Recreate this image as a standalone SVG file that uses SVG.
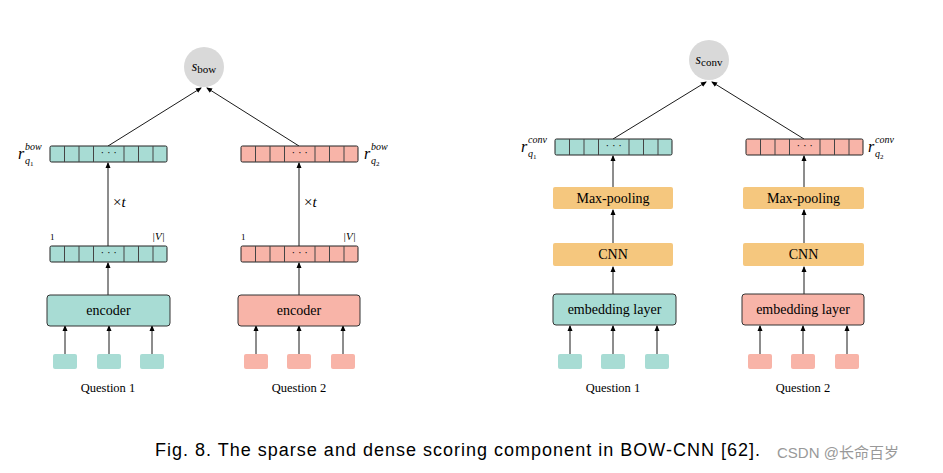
<svg xmlns="http://www.w3.org/2000/svg" xmlns:xlink="http://www.w3.org/1999/xlink" width="943" height="473" viewBox="0 0 943 473">
<style>
.t{font-family:"Liberation Serif",serif;fill:#000}
.lbl{font-size:14px}
.box{stroke:#333;stroke-width:1}
.c{stroke:#000;stroke-width:0.9;fill:none;marker-end:url(#ah)}
.teal{fill:#a8dcd4}.pink{fill:#f8b4a8}.org{fill:#f5c77e}
.r{font-size:16px;font-style:italic}
.sub{font-size:10px;font-style:italic}
.sup{font-size:10px;font-style:italic}
</style>
<defs>
<marker id="ah" markerWidth="6" markerHeight="6" refX="5" refY="3" orient="auto" markerUnits="userSpaceOnUse"><path d="M0,0.5 L6,3 L0,5.5 z" fill="#000"/></marker>
<g id="vec">
<rect x="0" y="0" width="117" height="16" rx="1.5" stroke="#222" stroke-width="1"/>
<path d="M14.5,0V16M29,0V16M43.5,0V16M74,0V16M88.5,0V16M103,0V16" stroke="#444" stroke-width="1"/>
<text x="58.75" y="10" text-anchor="middle" font-family="Liberation Serif,serif" font-size="11" fill="#000">· · ·</text>
</g>
</defs>
<rect width="943" height="473" fill="#fff"/>
<g id="connectors">
<line class="c" x1="108" y1="146" x2="201" y2="88"/>
<line class="c" x1="299" y1="146" x2="207" y2="88"/>
<line class="c" x1="108" y1="246" x2="108" y2="163"/>
<line class="c" x1="299" y1="246" x2="299" y2="163"/>
<line class="c" x1="108" y1="295" x2="108" y2="263"/>
<line class="c" x1="299" y1="295" x2="299" y2="263"/>
<line class="c" x1="65" y1="369" x2="65" y2="326"/>
<line class="c" x1="109" y1="369" x2="109" y2="326"/>
<line class="c" x1="152" y1="369" x2="152" y2="326"/>
<line class="c" x1="256" y1="369" x2="256" y2="326"/>
<line class="c" x1="299" y1="369" x2="299" y2="326"/>
<line class="c" x1="343" y1="369" x2="343" y2="326"/>
<line class="c" x1="613" y1="139" x2="706" y2="82"/>
<line class="c" x1="804" y1="139" x2="712" y2="82"/>
<line class="c" x1="613" y1="187" x2="613" y2="156"/>
<line class="c" x1="804" y1="187" x2="804" y2="156"/>
<line class="c" x1="613" y1="243" x2="613" y2="210"/>
<line class="c" x1="804" y1="243" x2="804" y2="210"/>
<line class="c" x1="613" y1="294" x2="613" y2="267"/>
<line class="c" x1="804" y1="294" x2="804" y2="267"/>
<line class="c" x1="570" y1="369" x2="570" y2="326"/>
<line class="c" x1="613" y1="369" x2="613" y2="326"/>
<line class="c" x1="657" y1="369" x2="657" y2="326"/>
<line class="c" x1="760" y1="369" x2="760" y2="326"/>
<line class="c" x1="803" y1="369" x2="803" y2="326"/>
<line class="c" x1="847" y1="369" x2="847" y2="326"/>
</g>
<g id="sbow"><circle cx="204" cy="67" r="20" fill="#d9d9d9"/><text class="t" x="204" y="71" text-anchor="middle" font-size="14" font-style="italic">s<tspan font-style="normal" font-size="11" dy="2">bow</tspan></text></g>
<g id="rq1bow"><use xlink:href="#vec" x="50" y="146" fill="#a8dcd4"/><text class="t r" x="18" y="159">r</text><text class="t sub" x="25" y="164">q<tspan font-size="7" font-style="normal" dy="2">1</tspan></text><text class="t sup" x="25" y="150">bow</text></g>
<g id="rq2bow"><use xlink:href="#vec" x="241" y="146" fill="#f8b4a8"/><text class="t r" x="364" y="159">r</text><text class="t sub" x="371" y="164">q<tspan font-size="7" font-style="normal" dy="2">2</tspan></text><text class="t sup" x="371" y="150">bow</text></g>
<g id="xt1"><text class="t" x="113" y="207" font-size="15">×<tspan font-style="italic">t</tspan></text></g>
<g id="xt2"><text class="t" x="304" y="207" font-size="15">×<tspan font-style="italic">t</tspan></text></g>
<g id="bowvec1"><use xlink:href="#vec" x="50" y="246" fill="#a8dcd4"/><text class="t" x="50" y="240" font-size="9" fill="#3a2a7a">1</text><text class="t" x="152" y="240" font-size="11" font-style="italic" fill="#e0a030">|V|</text></g>
<g id="bowvec2"><use xlink:href="#vec" x="241" y="246" fill="#f8b4a8"/><text class="t" x="241" y="240" font-size="9">1</text><text class="t" x="343" y="240" font-size="11" font-style="italic" fill="#3a7ad0">|V|</text></g>
<g id="enc1"><rect class="box teal" x="47" y="295" width="123" height="31" rx="3"/><text class="t lbl" x="108.5" y="315" text-anchor="middle">encoder</text></g>
<g id="enc2"><rect class="box pink" x="238" y="295" width="122" height="31" rx="3" stroke="#c03030"/><text class="t lbl" x="299" y="315" text-anchor="middle">encoder</text></g>
<g id="in1"><rect class="teal" x="53" y="354" width="24" height="15" rx="2"/><rect class="teal" x="97" y="354" width="24" height="15" rx="2"/><rect class="teal" x="140" y="354" width="24" height="15" rx="2"/><text class="t" x="108" y="392" font-size="12.5" text-anchor="middle">Question 1</text></g>
<g id="in2"><rect class="pink" x="244" y="354" width="24" height="15" rx="2"/><rect class="pink" x="287" y="354" width="24" height="15" rx="2"/><rect class="pink" x="331" y="354" width="24" height="15" rx="2"/><text class="t" x="299" y="392" font-size="12.5" text-anchor="middle">Question 2</text></g>
<g id="sconv"><circle cx="709" cy="60" r="20" fill="#d9d9d9"/><text class="t" x="709" y="64" text-anchor="middle" font-size="14" font-style="italic">s<tspan font-style="normal" font-size="11" dy="2">conv</tspan></text></g>
<g id="rq1conv"><use xlink:href="#vec" x="555" y="139" fill="#a8dcd4"/><text class="t r" x="521" y="152">r</text><text class="t sub" x="528" y="157">q<tspan font-size="7" font-style="normal" dy="2">1</tspan></text><text class="t sup" x="528" y="143">conv</text></g>
<g id="rq2conv"><use xlink:href="#vec" x="746" y="139" fill="#f8b4a8"/><text class="t r" x="868" y="152">r</text><text class="t sub" x="875" y="157">q<tspan font-size="7" font-style="normal" dy="2">2</tspan></text><text class="t sup" x="875" y="143">conv</text></g>
<g id="mp1"><rect class="org" x="553" y="187" width="120" height="22" rx="2"/><text class="t lbl" x="613" y="202.5" text-anchor="middle">Max-pooling</text></g>
<g id="mp2"><rect class="org" x="743" y="187" width="121" height="22" rx="2"/><text class="t lbl" x="803.5" y="202.5" text-anchor="middle">Max-pooling</text></g>
<g id="cnn1"><rect class="org" x="553" y="243" width="120" height="23" rx="2"/><text class="t lbl" x="613" y="259" text-anchor="middle">CNN</text></g>
<g id="cnn2"><rect class="org" x="743" y="243" width="121" height="23" rx="2"/><text class="t lbl" x="803.5" y="259" text-anchor="middle">CNN</text></g>
<g id="emb1"><rect class="box teal" x="553" y="294" width="123" height="31" rx="3"/><text class="t lbl" x="614.5" y="314" text-anchor="middle">embedding layer</text></g>
<g id="emb2"><rect class="box pink" x="742" y="294" width="122" height="31" rx="3" stroke="#c03030"/><text class="t lbl" x="803" y="314" text-anchor="middle">embedding layer</text></g>
<g id="in3"><rect class="teal" x="558" y="354" width="24" height="15" rx="2"/><rect class="teal" x="601" y="354" width="24" height="15" rx="2"/><rect class="teal" x="645" y="354" width="24" height="15" rx="2"/><text class="t" x="613" y="392" font-size="12.5" text-anchor="middle">Question 1</text></g>
<g id="in4"><rect class="pink" x="748" y="354" width="24" height="15" rx="2"/><rect class="pink" x="791" y="354" width="24" height="15" rx="2"/><rect class="pink" x="835" y="354" width="24" height="15" rx="2"/><text class="t" x="803" y="392" font-size="12.5" text-anchor="middle">Question 2</text></g>
<text x="155" y="456" font-family="Liberation Sans,sans-serif" font-size="18" fill="#000" textLength="605" lengthAdjust="spacing">Fig. 8.  The sparse and dense scoring component in BOW-CNN [62].</text>
<text x="777" y="458" font-family="Liberation Sans,'Noto Sans CJK SC',sans-serif" font-size="15" fill="#999">CSDN @长命百岁</text>
</svg>
